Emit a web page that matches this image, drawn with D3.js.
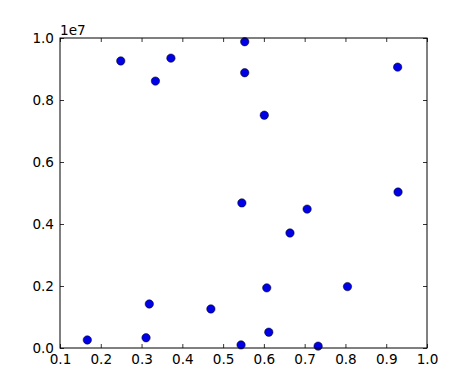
<!DOCTYPE html>
<html>
<head>
<meta charset="utf-8">
<script src="https://cdn.jsdelivr.net/npm/d3@7"></script>
<style>
  body { margin: 0; background: #fff; }
  svg text { font-family: "DejaVu Sans", sans-serif; font-size: 13.6px; fill: #000; }
</style>
</head>
<body>
<svg id="chart" width="474" height="387"></svg>
<script>
// scatter values (y in units of 1e7)
const xs = [0.167, 0.319, 0.311, 0.470, 0.544, 0.607, 0.805, 0.612, 0.733, 0.249,
            0.334, 0.372, 0.553, 0.553, 0.601, 0.928, 0.929, 0.706, 0.546, 0.664];
const ys = [0.026, 0.142, 0.033, 0.126, 0.010, 0.194, 0.198, 0.051, 0.006, 0.926,
            0.861, 0.935, 0.988, 0.888, 0.751, 0.906, 0.503, 0.448, 0.468, 0.371];
const xTicks = [0.1, 0.2, 0.3, 0.4, 0.5, 0.6, 0.7, 0.8, 0.9, 1.0];
const yTicks = [0.0, 0.2, 0.4, 0.6, 0.8, 1.0];
const offsetLabel = "1e7";

const svg = d3.select("#chart");
const m = { left: 60, right: 427, top: 38, bottom: 348 };

const x = d3.scaleLinear().domain([0.1, 1.0]).range([m.left, m.right]);
const y = d3.scaleLinear().domain([0, 1.0]).range([m.bottom, m.top]);

const fmt = d3.format(".1f");

// points first, frame on top like matplotlib's spines
svg.append("g").selectAll("circle")
    .data(xs.map((d, i) => [d, ys[i]]))
    .enter().append("circle")
    .attr("cx", d => x(d[0]))
    .attr("cy", d => y(d[1]))
    .attr("r", 4.2)
    .attr("fill", "#0000e6")
    .attr("stroke", "#000")
    .attr("stroke-width", 0.5);

// axes with inward ticks
svg.append("g")
    .attr("transform", `translate(0,${m.bottom})`)
    .call(d3.axisBottom(x).tickValues(xTicks).tickFormat(fmt).tickSizeInner(-4).tickSizeOuter(0).tickPadding(6));
svg.append("g")
    .attr("transform", `translate(0,${m.top})`)
    .call(d3.axisTop(x).tickValues(xTicks).tickFormat("").tickSizeInner(-4).tickSizeOuter(0));
svg.append("g")
    .attr("transform", `translate(${m.left},0)`)
    .call(d3.axisLeft(y).tickValues(yTicks).tickFormat(fmt).tickSizeInner(-4).tickSizeOuter(0).tickPadding(6));
svg.append("g")
    .attr("transform", `translate(${m.right},0)`)
    .call(d3.axisRight(y).tickValues(yTicks).tickFormat("").tickSizeInner(-4).tickSizeOuter(0));

svg.selectAll(".domain").remove();
svg.selectAll(".tick line").attr("stroke", "#000").attr("stroke-width", 0.8);
svg.selectAll(".tick text").style("font-family", "DejaVu Sans").style("font-size", "13.6px");

svg.append("rect")
    .attr("x", m.left).attr("y", m.top)
    .attr("width", m.right - m.left).attr("height", m.bottom - m.top)
    .attr("fill", "none").attr("stroke", "#000").attr("stroke-width", 1);

svg.append("text")
    .attr("x", m.left)
    .attr("y", m.top - 3)
    .text(offsetLabel);
</script>
</body>
</html>
